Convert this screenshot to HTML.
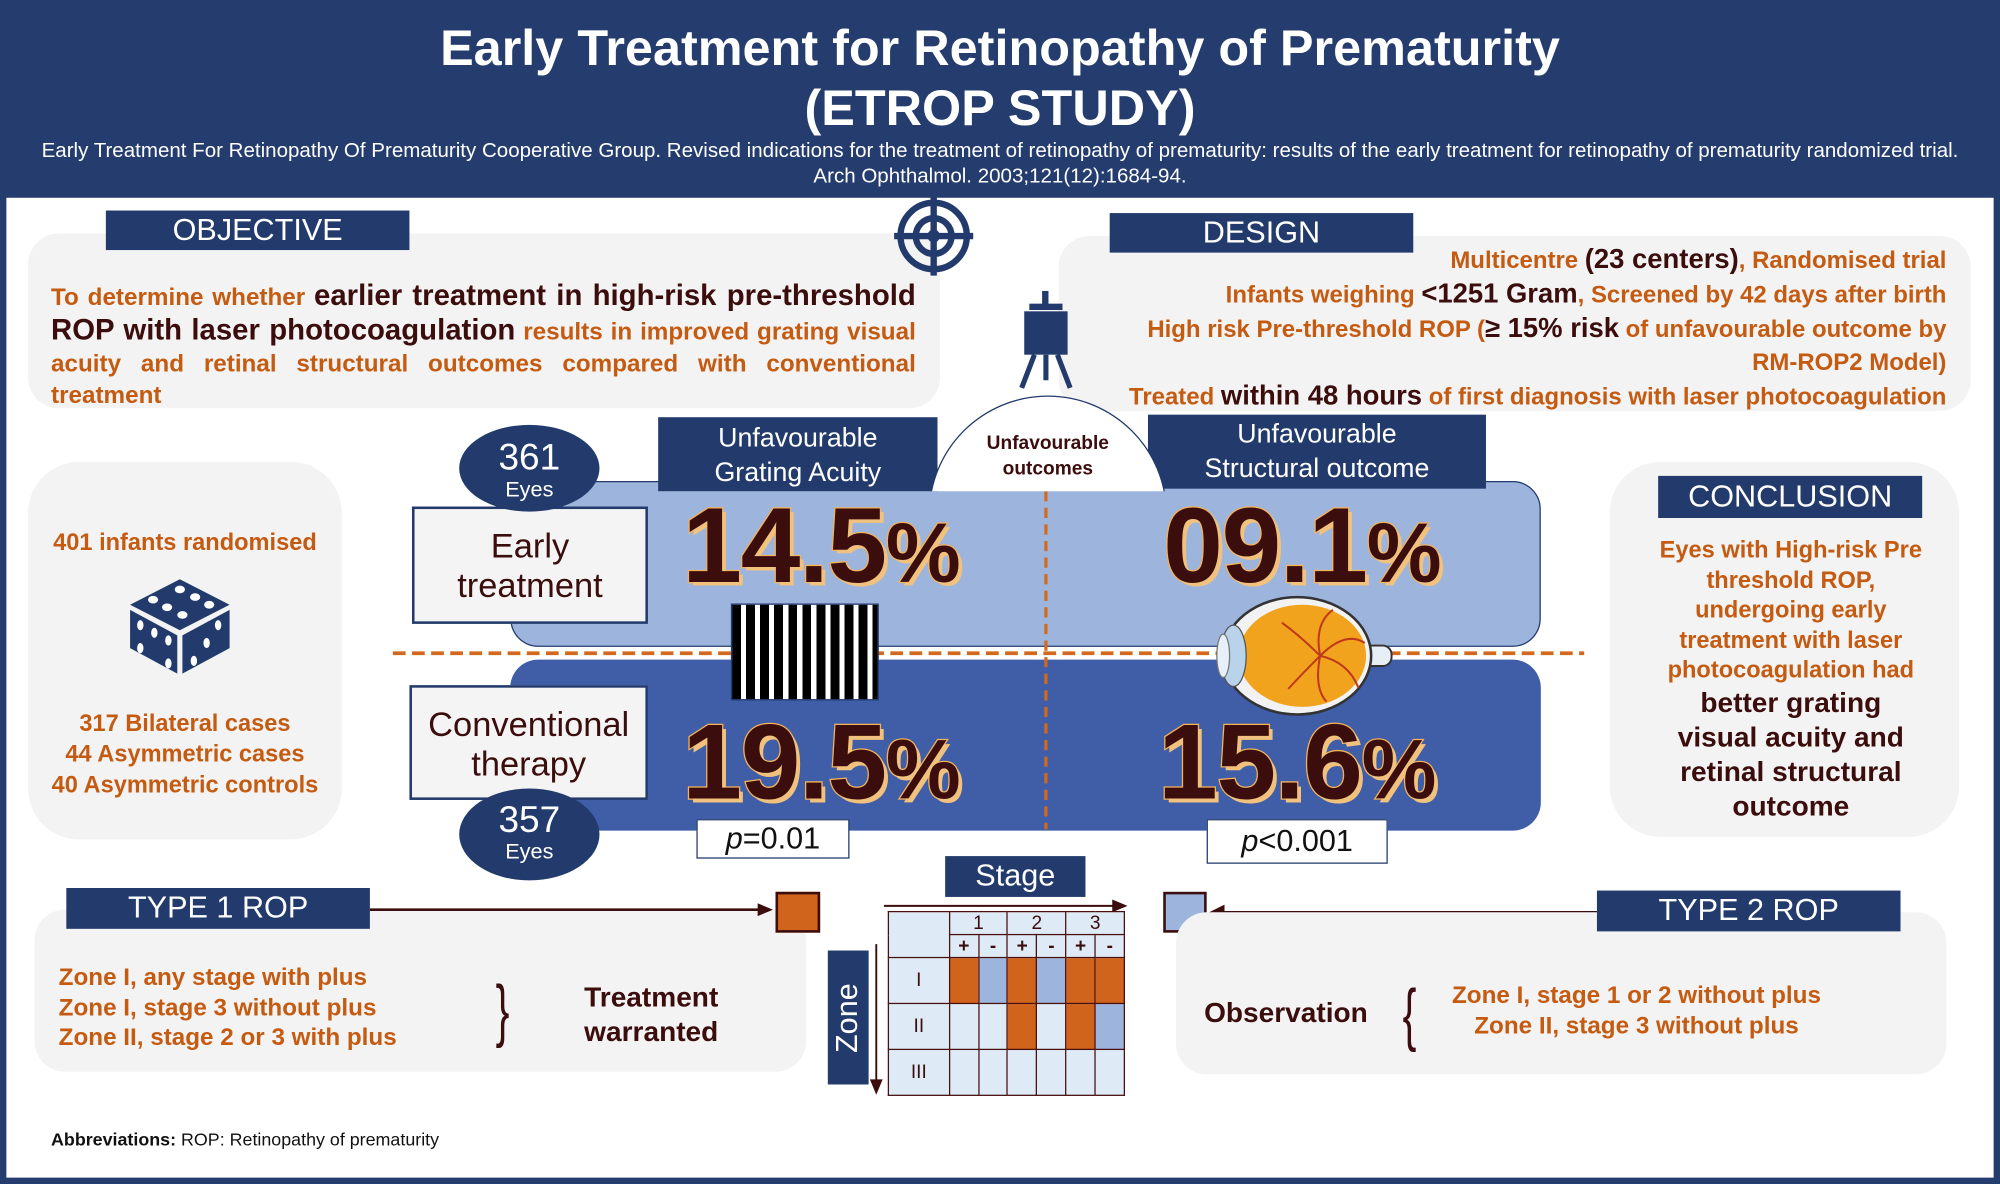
<!DOCTYPE html>
<html><head><meta charset="utf-8">
<style>
html,body{margin:0;padding:0;width:2000px;height:1184px;overflow:hidden;background:#fff}
#root{position:absolute;left:0;top:0;width:1568px;height:928px;transform:scale(1.27551,1.27586);transform-origin:0 0;background:#243c6e;font-family:"Liberation Sans",sans-serif}
.abs{position:absolute}
.inner{left:5px;top:155px;width:1558px;height:768px;background:#fff}
.panel{background:#f3f3f3;border-radius:24px}
.lbl{background:#233b6c;color:#fff;font-size:24px;text-align:center;box-sizing:border-box}
.or{color:#c55a11;font-weight:bold}
.dk{color:#3b0d0d;font-weight:bold}
.nar{font-family:"Liberation Sans Narrow","Liberation Sans",sans-serif}
.big{font-size:84px;font-weight:bold;color:#3b0d0d;-webkit-text-stroke:2px #f4b35a;paint-order:stroke fill;font-family:"Liberation Sans Narrow","Liberation Sans",sans-serif;letter-spacing:-1px;text-shadow:3px 3px 0 #f1c27d}
.big span{font-size:66px}
.wbox{background:#f4f4f4;border:2px solid #233b6c;box-sizing:border-box;text-align:center;color:#3b0d0d;font-size:27px;line-height:31px}
.circ{background:#233b6c;border-radius:50%;color:#fff;text-align:center}
.grid td{border:1.5px solid #4a1010;background:#deebf6;padding:0;text-align:center;font-size:15px;color:#3b0d0d}
</style></head><body>
<div id="root">
<div class="abs" style="left:0;top:15px;width:1568px;text-align:center;color:#fff;font-weight:bold;font-size:39.5px;line-height:47px">Early Treatment for Retinopathy of Prematurity<br>(ETROP STUDY)</div>
<div class="abs" style="left:0;top:108px;width:1568px;text-align:center;color:#fff;font-size:16.1px;line-height:20px">Early Treatment For Retinopathy Of Prematurity Cooperative Group. Revised indications for the treatment of retinopathy of prematurity: results of the early treatment for retinopathy of prematurity randomized trial.<br>Arch Ophthalmol. 2003;121(12):1684-94.</div>
<div class="abs inner"></div>

<!-- objective -->
<div class="abs panel" style="left:22px;top:183px;width:715px;height:137px"></div>
<div class="abs lbl" style="left:83px;top:165px;width:238px;height:31px;line-height:31px">OBJECTIVE</div>
<div class="abs nar" style="left:40px;top:219px;width:678px;font-size:19px;line-height:25px;text-align:justify;text-align-last:left"><span class="or">To determine whether </span><span class="dk" style="font-size:23px">earlier treatment in high-risk pre-threshold ROP with laser photocoagulation</span><span class="or"> results in improved grating visual acuity and retinal structural outcomes compared with conventional treatment</span></div>
<svg class="abs" style="left:697px;top:152px" width="70" height="70"><g fill="none" stroke="#233b6c" stroke-width="5"><circle cx="35" cy="33" r="26"/><circle cx="35" cy="33" r="14"/><line x1="35" y1="2" x2="35" y2="64"/><line x1="4" y1="33" x2="66" y2="33"/></g><circle cx="35" cy="33" r="5" fill="#233b6c"/></svg>

<!-- design -->
<div class="abs panel" style="left:830px;top:185px;width:715px;height:137px"></div>
<div class="abs lbl" style="left:870px;top:167px;width:238px;height:31px;line-height:31px">DESIGN</div>
<div class="abs nar" style="left:850px;top:190px;width:676px;font-size:18.8px;line-height:26px;text-align:right"><span class="or">Multicentre </span><span class="dk" style="font-size:21.5px">(23 centers)</span><span class="or">, Randomised trial</span><br><span class="or">Infants weighing </span><span class="dk" style="font-size:21.5px">&lt;1251 Gram</span><span class="or">, Screened by 42 days after birth</span><br><span class="or">High risk Pre-threshold ROP (</span><span class="dk" style="font-size:21.5px">≥ 15% risk</span><span class="or"> of unfavourable outcome by</span><br><span class="or" style="line-height:22px">RM-ROP2 Model)</span><br><span class="or">Treated </span><span class="dk" style="font-size:21.5px">within 48 hours</span><span class="or"> of first diagnosis with laser photocoagulation</span></div>
<svg class="abs" style="left:795px;top:228px" width="50" height="80"><rect x="22" y="0" width="5" height="12" fill="#233b6c"/><rect x="12" y="10" width="26" height="5" fill="#233b6c"/><rect x="8" y="16" width="34" height="34" fill="#233b6c"/><g stroke="#233b6c" stroke-width="4"><line x1="16" y1="50" x2="6" y2="76"/><line x1="34" y1="50" x2="44" y2="76"/><line x1="25" y1="50" x2="25" y2="70"/></g></svg>

<!-- left panel -->
<div class="abs panel" style="left:22px;top:362px;width:246px;height:296px;border-radius:40px"></div>
<div class="abs or nar" style="left:22px;top:414px;width:246px;text-align:center;font-size:18.5px">401 infants randomised</div>
<svg class="abs" style="left:100px;top:452px" width="82" height="78"><polygon points="41,2 80,22 41,42 2,22" fill="#233b6c"/><polygon points="2,26 39,46 39,76 2,56" fill="#233b6c"/><polygon points="43,46 80,26 80,56 43,76" fill="#233b6c"/><g fill="#fff"><ellipse cx="41" cy="10" rx="4" ry="3"/><ellipse cx="53" cy="16" rx="4" ry="3"/><ellipse cx="64" cy="22" rx="4" ry="3"/><ellipse cx="20" cy="18" rx="4" ry="3"/><ellipse cx="31" cy="24" rx="4" ry="3"/><ellipse cx="43" cy="30" rx="4" ry="3"/><ellipse cx="10" cy="38" rx="2.5" ry="4"/><ellipse cx="21" cy="44" rx="2.5" ry="4"/><ellipse cx="32" cy="50" rx="2.5" ry="4"/><ellipse cx="10" cy="56" rx="2.5" ry="4"/><ellipse cx="32" cy="68" rx="2.5" ry="4"/><ellipse cx="71" cy="38" rx="2.5" ry="4"/><ellipse cx="62" cy="52" rx="2.5" ry="4"/><ellipse cx="52" cy="66" rx="2.5" ry="4"/></g></svg>
<div class="abs or nar" style="left:22px;top:555px;width:246px;text-align:center;font-size:18.5px;line-height:24px">317 Bilateral cases<br>44 Asymmetric cases<br>40 Asymmetric controls</div>

<!-- conclusion -->
<div class="abs panel" style="left:1262px;top:362px;width:274px;height:294px;border-radius:40px"></div>
<div class="abs lbl" style="left:1300px;top:373px;width:207px;height:33px;line-height:33px">CONCLUSION</div>
<div class="abs nar" style="left:1299px;top:419px;width:210px;text-align:center;font-size:18.5px;line-height:23.5px"><span class="or">Eyes with High-risk Pre threshold ROP, undergoing early treatment with laser photocoagulation had</span><br><span class="dk" style="font-size:22px;line-height:27px">better grating visual acuity and retinal structural outcome</span></div>

<!-- results boxes -->
<div class="abs" style="left:400px;top:377px;width:808px;height:130px;background:#9db4dc;border:1.5px solid #233b6c;border-radius:22px;box-sizing:border-box"></div>
<div class="abs" style="left:400px;top:517px;width:808px;height:134px;background:#3f5ea7;border-radius:22px"></div>
<svg class="abs" style="left:0;top:0" width="1568" height="928"><line x1="308" y1="512" x2="1242" y2="512" stroke="#d2691e" stroke-width="3" stroke-dasharray="10,5"/><line x1="820" y1="385" x2="820" y2="650" stroke="#d2691e" stroke-width="2.5" stroke-dasharray="8,5"/></svg>
<div class="abs lbl" style="left:516px;top:327px;width:219px;height:58px;font-size:21px;line-height:27px;padding-top:3px">Unfavourable<br>Grating Acuity</div>
<div class="abs lbl" style="left:900px;top:325px;width:265px;height:58px;font-size:21px;line-height:27px;padding-top:2px">Unfavourable<br>Structural outcome</div>
<div class="abs" style="left:728px;top:310px;width:187px;height:186px;border-radius:50%;background:#fff;border:1.5px solid #233b6c;box-sizing:border-box;clip-path:inset(0 0 111px 0)"></div>
<div class="abs dk" style="left:728px;top:338px;width:187px;text-align:center;font-size:15px;line-height:20px">Unfavourable<br>outcomes</div>

<div class="abs wbox nar" style="left:323px;top:397px;width:185px;height:92px;padding-top:14px">Early<br>treatment</div>
<div class="abs wbox nar" style="left:321px;top:537px;width:187px;height:90px;padding-top:14px">Conventional<br>therapy</div>
<div class="abs circ nar" style="left:360px;top:333px;width:110px;height:68px"><div style="font-size:29px;padding-top:11px;line-height:30px">361</div><div style="font-size:17px">Eyes</div></div>
<div class="abs circ nar" style="left:360px;top:618px;width:110px;height:72px"><div style="font-size:29px;padding-top:10px;line-height:30px">357</div><div style="font-size:17px">Eyes</div></div>

<div class="abs big" style="left:535px;top:382px;line-height:90px">14.5<span>%</span></div>
<div class="abs big" style="left:912px;top:382px;line-height:90px">09.1<span>%</span></div>
<div class="abs big" style="left:535px;top:552px;line-height:90px">19.5<span>%</span></div>
<div class="abs big" style="left:908px;top:552px;line-height:90px">15.6<span>%</span></div>

<div class="abs" style="left:573px;top:473px;width:116px;height:76px;border:1.5px solid #233b6c;box-sizing:border-box;background:repeating-linear-gradient(90deg,#000 0 7px,#fff 7px 11px)"></div>
<svg class="abs" style="left:945px;top:462px" width="150" height="100"><rect x="118" y="44" width="28" height="16" rx="7" fill="#e8eef5" stroke="#333" stroke-width="1.5"/><ellipse cx="72" cy="52" rx="58" ry="46" fill="#f2f2f2" stroke="#333" stroke-width="2"/><ellipse cx="76" cy="52" rx="50" ry="40" fill="#f2a31e"/><path d="M90 52 q20 -20 35 -10 M90 52 q22 5 30 25 M90 52 q-5 -25 10 -36 M90 52 q-5 25 5 36 M90 52 q-15 -15 -30 -26 M90 52 q-15 15 -25 26" stroke="#c0391b" stroke-width="1.6" fill="none"/><ellipse cx="22" cy="52" rx="10" ry="24" fill="#b9d3ea" stroke="#555"/><ellipse cx="14" cy="52" rx="5" ry="17" fill="#e7f0f8" stroke="#777"/></svg>

<div class="abs" style="left:546px;top:642px;width:120px;height:31px;background:#fff;border:1.5px solid #233b6c;box-sizing:border-box;text-align:center;font-size:24px;line-height:29px;color:#111"><i>p</i>=0.01</div>
<div class="abs" style="left:946px;top:642px;width:142px;height:35px;background:#fff;border:1.5px solid #233b6c;box-sizing:border-box;text-align:center;font-size:24px;line-height:33px;color:#111"><i>p</i>&lt;0.001</div>

<!-- type 1 -->
<div class="abs panel" style="left:27px;top:713px;width:605px;height:127px"></div>
<div class="abs lbl" style="left:52px;top:696px;width:238px;height:32px;line-height:32px">TYPE 1 ROP</div>
<div class="abs or nar" style="left:46px;top:755px;font-size:19px;line-height:23.5px">Zone I, any stage with plus<br>Zone I, stage 3 without plus<br>Zone II, stage 2 or 3 with plus</div>
<div class="abs" style="left:385px;top:752px;font-size:54px;color:#3b0d0d;font-weight:100;line-height:80px;transform:scaleX(0.6)">}</div>
<div class="abs dk nar" style="left:458px;top:768px;font-size:22px;line-height:27px">Treatment<br>warranted</div>
<svg class="abs" style="left:0;top:0" width="1568" height="928"><line x1="290" y1="713" x2="598" y2="713" stroke="#3b0d0d" stroke-width="2"/><polygon points="606,713 594,708 594,718" fill="#3b0d0d"/><line x1="1252" y1="715" x2="958" y2="715" stroke="#3b0d0d" stroke-width="2"/><polygon points="948,715 960,709 960,721" fill="#3b0d0d"/><line x1="693" y1="710" x2="876" y2="710" stroke="#3b0d0d" stroke-width="1.5"/><polygon points="884,710 872,705 872,715" fill="#3b0d0d"/><line x1="687" y1="740" x2="687" y2="850" stroke="#3b0d0d" stroke-width="1.5"/><polygon points="687,858 682,846 692,846" fill="#3b0d0d"/></svg>
<div class="abs" style="left:608px;top:699px;width:35px;height:32px;background:#d0641c;border:2px solid #3b0d0d;box-sizing:border-box"></div>
<div class="abs" style="left:912px;top:699px;width:34px;height:32px;background:#9db4dc;border:2px solid #3b0d0d;box-sizing:border-box"></div>

<!-- type 2 -->
<div class="abs panel" style="left:922px;top:715px;width:604px;height:127px"></div>
<div class="abs lbl" style="left:1252px;top:698px;width:238px;height:32px;line-height:32px">TYPE 2 ROP</div>
<div class="abs dk nar" style="left:944px;top:781px;font-size:22px">Observation</div>
<div class="abs" style="left:1096px;top:755px;font-size:54px;color:#3b0d0d;line-height:80px;transform:scaleX(0.6)">{</div>
<div class="abs or nar" style="left:1128px;top:769px;width:310px;text-align:center;font-size:19px;line-height:23.5px">Zone I, stage 1 or 2 without plus<br>Zone II, stage 3 without plus</div>

<!-- grid -->
<div class="abs lbl" style="left:741px;top:671px;width:110px;height:32px;line-height:32px">Stage</div>
<div class="abs lbl" style="left:649px;top:745px;width:32px;height:105px"><div style="position:absolute;left:50%;top:50%;transform:translate(-50%,-50%) rotate(-90deg)">Zone</div></div>
<div class="abs" id="gridwrap" style="left:696px;top:714px"></div>

<div class="abs" style="left:40px;top:885px;font-size:14px;color:#111"><b>Abbreviations:</b> ROP: Retinopathy of prematurity</div>
</div>
<script>
const stages = ['1','2','3'];
const plusLabels = ['+','-'];
const zones = ['I','II','III'];
// T = type 1 (treat), O = type 2 (observe), '' = none
const zoneI = ['T','O','T','O','T','T'];
const zoneII = ['','','T','','T','O'];
const zoneIII = ['','','','','',''];
const cellRows = [zoneI, zoneII, zoneIII];
const colors = {T:'#d0641c', O:'#9db4dc', '':'#deebf6'};
const t = document.createElement('table');
t.className = 'grid';


t.style.borderCollapse = 'collapse';
t.style.width = '186px';
t.style.height = '144px';
let r1 = t.insertRow();
r1.style.height = '18px';
let c0 = r1.insertCell(); c0.rowSpan = 2; c0.style.width = '47px';
stages.forEach(s => { const c = r1.insertCell(); c.colSpan = 2; c.textContent = s;

 });
let r2 = t.insertRow();
r2.style.height = '16px';
stages.forEach(() => plusLabels.forEach(p => { const c = r2.insertCell(); c.textContent = p; c.style.fontWeight='bold';

 }));
cellRows.forEach((row, i) => {
  const r = t.insertRow();
  r.style.height = '36px';
  const h = r.insertCell(); h.textContent = zones[i];
  
  
  row.forEach(v => { const c = r.insertCell(); c.style.background = colors[v]; c.style.width='22px';
  
   });
});
document.getElementById('gridwrap').appendChild(t);
</script>
</body></html>
